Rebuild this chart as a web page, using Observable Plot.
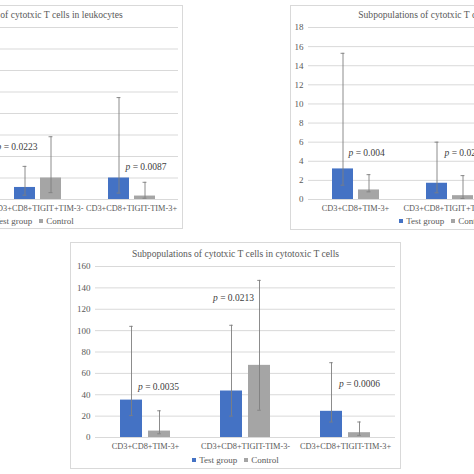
<!DOCTYPE html>
<html>
<head>
<meta charset="utf-8">
<script src="https://cdn.jsdelivr.net/npm/d3@7"></script>
<script src="https://cdn.jsdelivr.net/npm/@observablehq/plot@0.6"></script>
<style>
  html, body { margin: 0; padding: 0; background: #fff; }
  body { width: 474px; height: 474px; overflow: hidden; position: relative;
         font-family: "Liberation Serif", "Times New Roman", serif; }
  .panel { position: absolute; background: #fff; }
  .panel .frame { position: absolute; inset: 0; border: 1px solid #d9d9d9; }
  .panel .title { position: absolute; left: 0; right: 0; text-align: center; font-size: 9.6px;
                  line-height: 12px; color: #595959; white-space: nowrap; }
  .panel .chart { position: absolute; left: 0; }
  .panel .chart svg { display: block; overflow: visible; }
  .panel .legend { position: absolute; left: 0; right: 0; text-align: center; font-size: 9px;
                   line-height: 12px; color: #595959; white-space: nowrap; }
  .legend .item + .item { margin-left: 7px; }
  .legend .sw { display: inline-block; width: 4px; height: 4px; margin-right: 3px;
                vertical-align: middle; position: relative; top: -1px; }
</style>
</head>
<body>
<script>
// Series shared by all three panels
const groups = ["Test group", "Control"];
const groupColors = ["#4472C4", "#A5A5A5"];

// Subpopulations of cytotoxic T cells in leukocytes (%)
const leukCategories = ["CD3+CD8+TIM-3+", "CD3+CD8+TIGIT+TIM-3-", "CD3+CD8+TIGIT-TIM-3+"];
const leukTest = [0.95, 0.28, 0.5];
const leukTestLow = [0.4, 0.1, 0.15];
const leukTestHigh = [3.9, 0.77, 2.37];
const leukControl = [0.3, 0.5, 0.08];
const leukControlLow = [0.2, 0.16, 0.03];
const leukControlHigh = [0.8, 1.46, 0.4];
const leukP = ["p = 0.0041", "p = 0.0223", "p = 0.0087"];
const leukPY = [2.2, 1.23, 0.75];
const leukTicks = [0, 0.5, 1, 1.5, 2, 2.5, 3, 3.5, 4];

// Subpopulations of cytotoxic T cells in lymphocytes (%)
const lymphCategories = ["CD3+CD8+TIM-3+", "CD3+CD8+TIGIT+TIM-3-", "CD3+CD8+TIGIT-TIM-3+"];
const lymphTest = [3.2, 1.7, 1.5];
const lymphTestLow = [1.5, 0.7, 0.6];
const lymphTestHigh = [15.3, 6.0, 7.5];
const lymphControl = [1.0, 0.4, 0.3];
const lymphControlLow = [0.8, 0.1, 0.1];
const lymphControlHigh = [2.6, 2.5, 1.2];
const lymphP = ["p = 0.004", "p = 0.0254", "p = 0.0061"];
const lymphPY = [4.9, 4.9, 3.5];
const lymphTicks = [0, 2, 4, 6, 8, 10, 12, 14, 16, 18];

// Subpopulations of cytotoxic T cells in cytotoxic T cells (%)
const cytoCategories = ["CD3+CD8+TIM-3+", "CD3+CD8+TIGIT-TIM-3-", "CD3+CD8+TIGIT-TIM-3+"];
const cytoTest = [35, 43.5, 24.5];
const cytoTestLow = [20.5, 20, 14.5];
const cytoTestHigh = [104, 105, 70];
const cytoControl = [6, 67.5, 4.5];
const cytoControlLow = [3.5, 25.5, 2];
const cytoControlHigh = [25, 147, 14.5];
const cytoP = ["p = 0.0035", "p = 0.0213", "p = 0.0006"];
const cytoPY = [47, 131, 50.5];
const cytoTicks = [0, 20, 40, 60, 80, 100, 120, 140, 160];

const panels = [
  {
    title: "Subpopulations of cytotxic T cells in leukocytes",
    box: {left: -122, top: 5, width: 305, height: 224},
    titleTop: 4, titleShift: 0, chartTop: 16, legendTop: 210,
    width: 305, marginLeft: 18, marginRight: 5, marginBottom: 17,
    categories: leukCategories, test: leukTest, testLow: leukTestLow, testHigh: leukTestHigh,
    control: leukControl, controlLow: leukControlLow, controlHigh: leukControlHigh,
    p: leukP, pY: leukPY, pShift: [-8, -41, -6], ticks: leukTicks
  },
  {
    title: "Subpopulations of cytotxic T cells in lymphocytes",
    box: {left: 290, top: 5, width: 305, height: 225},
    titleTop: 4, titleShift: 24, chartTop: 16, legendTop: 210,
    width: 305, marginLeft: 18, marginRight: 5, marginBottom: 17,
    categories: lymphCategories, test: lymphTest, testLow: lymphTestLow, testHigh: lymphTestHigh,
    control: lymphControl, controlLow: lymphControlLow, controlHigh: lymphControlHigh,
    p: lymphP, pY: lymphPY, pShift: [-7, -5, -6], ticks: lymphTicks
  },
  {
    title: "Subpopulations of cytotxic T cells in cytotoxic T cells",
    box: {left: 70, top: 242, width: 331, height: 227},
    titleTop: 6, titleShift: 0, chartTop: 18, legendTop: 212,
    width: 331, marginLeft: 25, marginRight: 6, marginBottom: 18,
    categories: cytoCategories, test: cytoTest, testLow: cytoTestLow, testHigh: cytoTestHigh,
    control: cytoControl, controlLow: cytoControlLow, controlHigh: cytoControlHigh,
    p: cytoP, pY: cytoPY, pShift: [-7.5, -32.5, -6.5], ticks: cytoTicks
  }
];

const paddingInner = 0.2, paddingOuter = 0.88;
const errColor = "#7f7f7f";

function drawPanel(cfg) {
  const data = cfg.categories.flatMap((c, i) => [
    {category: c, group: groups[0], value: cfg.test[i], low: cfg.testLow[i], high: cfg.testHigh[i]},
    {category: c, group: groups[1], value: cfg.control[i], low: cfg.controlLow[i], high: cfg.controlHigh[i]}
  ]);
  const labels = cfg.categories.map((c, i) => ({category: c, text: cfg.p[i], y: cfg.pY[i]}));

  // width of one bar, used to shrink the error-bar caps to a few pixels
  const facetWidth = (cfg.width - cfg.marginLeft - cfg.marginRight) / cfg.categories.length;
  const step = facetWidth / (groups.length - paddingInner + 2 * paddingOuter);
  const bandwidth = step * (1 - paddingInner);
  const capInset = (bandwidth - 4) / 2;

  const chart = Plot.plot({
    width: cfg.width,
    height: 195,
    marginLeft: cfg.marginLeft,
    marginRight: cfg.marginRight,
    marginTop: 6,
    marginBottom: cfg.marginBottom,
    style: {fontFamily: "'Liberation Serif', 'Times New Roman', serif", fontSize: "9px",
            color: "#595959", background: "transparent", overflow: "visible"},
    fx: {domain: cfg.categories, padding: 0, label: null, axis: "bottom", tickSize: 0, tickPadding: 6},
    x: {domain: groups, paddingInner, paddingOuter, axis: null},
    y: {domain: [cfg.ticks[0], cfg.ticks[cfg.ticks.length - 1]], ticks: cfg.ticks,
        tickSize: 0, tickPadding: 5, label: null},
    color: {domain: groups, range: groupColors},
    marks: [
      Plot.ruleY(cfg.ticks.slice(1), {stroke: "#d9d9d9", strokeWidth: 1}),
      Plot.barY(data, {fx: "category", x: "group", y: "value", fill: "group"}),
      Plot.ruleY([0], {stroke: "#d9d9d9", strokeWidth: 1}),
      Plot.ruleX(data, {fx: "category", x: "group", y1: "low", y2: "high", stroke: errColor, strokeWidth: 0.9}),
      Plot.tickY(data, {fx: "category", x: "group", y: "high", stroke: errColor, strokeWidth: 0.9,
                        insetLeft: capInset, insetRight: capInset}),
      Plot.tickY(data, {fx: "category", x: "group", y: "low", stroke: errColor, strokeWidth: 0.9,
                        insetLeft: capInset, insetRight: capInset}),
      ...labels.map((d, i) => Plot.text([d], {fx: "category", y: "y", text: "text",
                        textAnchor: "start", dx: cfg.pShift[i], fill: "#404040", fontSize: 9.5}))
    ]
  });

  d3.select(chart).selectAll("text").each(function () {
    const s = this.textContent;
    // italic "p" in the significance labels
    if (s.startsWith("p = ")) {
      this.textContent = "";
      d3.select(this).append("tspan").attr("font-style", "italic").text("p");
      d3.select(this).append("tspan").text(s.slice(1));
    }
    // slightly smaller category labels so neighbouring groups do not collide
    if (s.startsWith("CD3")) d3.select(this).style("font-size", "8.3px");
  });

  const panel = d3.select("body").append("div").attr("class", "panel")
    .style("left", cfg.box.left + "px").style("top", cfg.box.top + "px")
    .style("width", cfg.box.width + "px").style("height", cfg.box.height + "px");
  panel.append("div").attr("class", "frame");
  panel.append("div").attr("class", "title")
    .style("top", cfg.titleTop + "px").style("padding-left", cfg.titleShift + "px")
    .text(cfg.title);
  panel.append("div").attr("class", "chart").style("top", cfg.chartTop + "px")
    .node().appendChild(chart);
  const legend = panel.append("div").attr("class", "legend").style("top", cfg.legendTop + "px");
  groups.forEach((g, i) => {
    const item = legend.append("span").attr("class", "item");
    item.append("span").attr("class", "sw").style("background", groupColors[i]);
    item.append("span").text(g);
  });
}

panels.forEach(drawPanel);
</script>
</body>
</html>
